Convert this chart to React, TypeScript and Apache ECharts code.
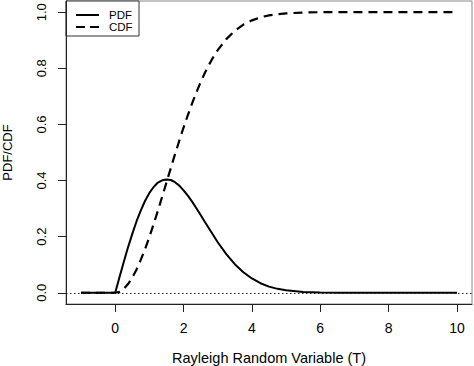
import React, { useEffect, useRef } from "react";
import * as echarts from "echarts";

// Rayleigh random variable T values
const xValues = [-1, 0, 0.125, 0.25, 0.375, 0.5, 0.625, 0.75, 0.875, 1, 1.125, 1.25, 1.375, 1.5, 1.625, 1.75, 1.875, 2, 2.125, 2.25, 2.375, 2.5, 2.625, 2.75, 2.875, 3, 3.25, 3.5, 3.75, 4, 4.25, 4.5, 4.75, 5, 5.5, 6, 6.5, 7, 10];
const pdfValues = [0, 0, 0.055, 0.110, 0.162, 0.210, 0.255, 0.294, 0.328, 0.356, 0.377, 0.393, 0.401, 0.404, 0.402, 0.394, 0.382, 0.365, 0.346, 0.325, 0.301, 0.277, 0.252, 0.228, 0.204, 0.180, 0.138, 0.102, 0.073, 0.051, 0.034, 0.022, 0.014, 0.009, 0.003, 0.001, 0.0002, 0, 0];
const cdfValues = [0, 0, 0.003, 0.014, 0.031, 0.054, 0.083, 0.118, 0.156, 0.199, 0.245, 0.293, 0.343, 0.393, 0.444, 0.494, 0.542, 0.589, 0.633, 0.675, 0.714, 0.751, 0.784, 0.814, 0.841, 0.865, 0.904, 0.934, 0.956, 0.971, 0.982, 0.989, 0.993, 0.996, 0.999, 1.0, 1.0, 1.0, 1.0];
const xTicks = [0, 2, 4, 6, 8, 10];
const yTicks = [0, 0.2, 0.4, 0.6, 0.8, 1.0];
const seriesNames = ["PDF", "CDF"];

const FONT = "'Liberation Sans', Arial, Helvetica, sans-serif";

export default function App() {
  const ref = useRef<HTMLDivElement>(null);
  useEffect(() => {
    if (!ref.current) return;
    const chart = echarts.init(ref.current, null, { renderer: "svg" });
    const pdfData = xValues.map((x, i) => [x, pdfValues[i]]);
    const cdfData = xValues.map((x, i) => [x, cdfValues[i]]);
    chart.setOption({
      animation: false,
      backgroundColor: "#fff",
      textStyle: { fontFamily: FONT },
      grid: {
        left: 66,
        top: 1,
        right: 2,
        bottom: 62,
        containLabel: false,
        outerBoundsMode: "none",
        show: true,
        borderColor: "#888",
        borderWidth: 1,
      },
      graphic: [
        {
          type: "group",
          x: 66,
          y: 1,
          z: 100,
          children: [
            {
              type: "rect",
              shape: { x: 0, y: 0, width: 73, height: 35 },
              style: { fill: "#fff", stroke: "#333", lineWidth: 1 },
            },
            {
              type: "line",
              shape: { x1: 10, y1: 14, x2: 33, y2: 14 },
              style: { stroke: "#000", lineWidth: 2 },
            },
            {
              type: "line",
              shape: { x1: 10, y1: 26, x2: 33, y2: 26 },
              style: { stroke: "#000", lineWidth: 2.2, lineDash: [9, 5] },
            },
            {
              type: "text",
              x: 43,
              y: 14,
              style: { text: seriesNames[0], fontSize: 11.5, fill: "#000", fontFamily: FONT, verticalAlign: "middle" },
            },
            {
              type: "text",
              x: 43,
              y: 26,
              style: { text: seriesNames[1], fontSize: 11.5, fill: "#000", fontFamily: FONT, verticalAlign: "middle" },
            },
          ],
        },
      ],
      xAxis: {
        type: "value",
        min: -1.44,
        max: 10.44,
        splitLine: { show: false },
        axisLine: { show: true, onZero: false, lineStyle: { color: "#222", width: 1 } },
        axisTick: { show: true, customValues: xTicks, length: 8, lineStyle: { color: "#222" } },
        axisLabel: { customValues: xTicks, fontSize: 14, color: "#000", margin: 17, fontFamily: FONT },
        name: "Rayleigh Random Variable (T)",
        nameLocation: "middle",
        nameGap: 46,
        nameTextStyle: { fontSize: 14.5, color: "#000", fontFamily: FONT },
      },
      yAxis: {
        type: "value",
        min: -0.04,
        max: 1.04,
        splitLine: { show: false },
        axisLine: { show: true, onZero: false, lineStyle: { color: "#222", width: 1 } },
        axisTick: { show: true, customValues: yTicks, length: 8, lineStyle: { color: "#222" } },
        axisLabel: {
          customValues: yTicks,
          rotate: 90,
          fontSize: 13,
          color: "#000",
          margin: 18,
          fontFamily: FONT,
          formatter: (v: number) => v.toFixed(1),
        },
        name: "PDF/CDF",
        nameLocation: "middle",
        nameGap: 52,
        nameTextStyle: { fontSize: 13, color: "#000", fontFamily: FONT },
      },
      series: [
        {
          name: seriesNames[0],
          type: "line",
          data: pdfData,
          symbol: "none",
          showSymbol: false,
          lineStyle: { color: "#000", width: 2 },
          itemStyle: { color: "#000" },
          markLine: {
            silent: true,
            symbol: ["none", "none"],
            label: { show: false },
            lineStyle: { color: "#222", width: 1, type: [1.5, 2.5] },
            data: [{ yAxis: 0 }],
          },
          z: 3,
        },
        {
          name: seriesNames[1],
          type: "line",
          data: cdfData,
          symbol: "none",
          showSymbol: false,
          lineStyle: { color: "#000", width: 2.2, type: [9, 6] },
          itemStyle: { color: "#000" },
          z: 2,
        },
      ],
    });
    return () => chart.dispose();
  }, []);
  return (
    <div
      ref={ref}
      style={{ position: "fixed", left: 0, top: 0, width: 474, height: 366, background: "#fff" }}
    />
  );
}
